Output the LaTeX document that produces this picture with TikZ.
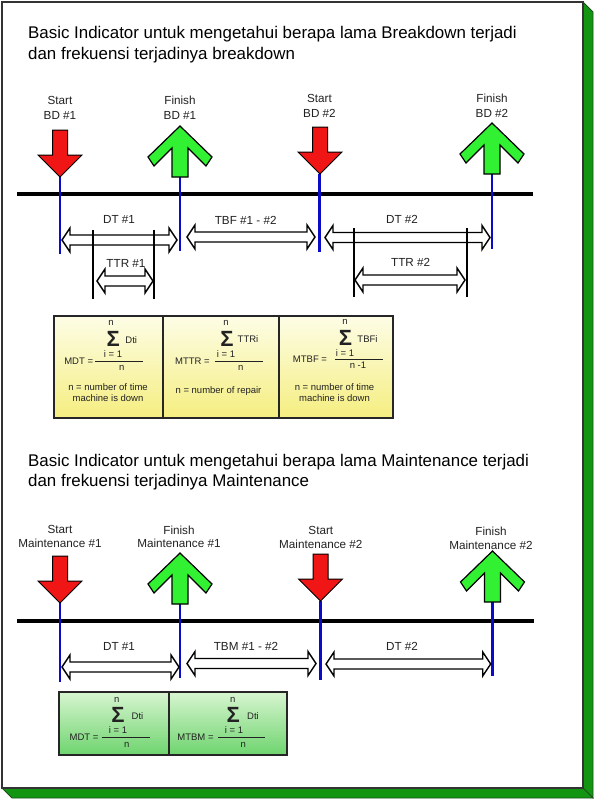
\documentclass[tikz,border=0pt]{standalone}
\usepackage{fontspec}
\setmainfont{Liberation Sans}
\definecolor{frgreen}{RGB}{18,150,18}
\definecolor{frgreendk}{RGB}{30,80,30}
\definecolor{arrred}{RGB}{240,22,22}
\definecolor{arrgreen}{RGB}{50,240,50}
\definecolor{tlblue}{RGB}{10,10,200}
\definecolor{yeltop}{RGB}{253,253,230}
\definecolor{yelbot}{RGB}{245,238,128}
\definecolor{grntop}{RGB}{215,245,208}
\definecolor{grnbot}{RGB}{110,212,110}
\definecolor{txt}{RGB}{34,34,34}
\newcommand{\redarr}[2]{\path[downarr] (#1-7.5,#2-47) -- (#1+7.5,#2-47) -- (#1+7.5,#2-22) -- (#1+22,#2-22) -- (#1,#2) -- (#1-22,#2-22) -- (#1-7.5,#2-22) -- cycle;}
\newcommand{\greenarr}[2]{\path[uparr] (#1,#2) -- (#1+32,#2+31) -- (#1+26,#2+40) -- (#1+8,#2+22) -- (#1+8,#2+51) -- (#1-8,#2+51) -- (#1-8,#2+22) -- (#1-26,#2+40) -- (#1-32,#2+31) -- cycle;}
\newcommand{\dblarr}[3]{\path[hollowarr] (#1,#3) -- (#1+8,#3-12) -- (#1+8,#3-5) -- (#2-8,#3-5) -- (#2-8,#3-12) -- (#2,#3) -- (#2-8,#3+12) -- (#2-8,#3+5) -- (#1+8,#3+5) -- (#1+8,#3+12) -- cycle;}
\begin{document}
\begin{tikzpicture}[x=1pt,y=-1pt,
  title/.style={anchor=base west, inner sep=0, font=\fontsize{16.9}{20}\selectfont, text=black},
  lbl/.style={anchor=base, inner sep=0, font=\fontsize{11.7}{14}\selectfont, text=txt},
  fml/.style={inner sep=0, font=\fontsize{9.5}{11}\selectfont, text=txt},
  sig/.style={inner sep=0, font=\fontsize{22}{24}\selectfont\bfseries, text=txt},
  timeline/.style={line width=3.5pt, black},
  evline/.style={line width=2.5pt, tlblue},
  ttrline/.style={line width=2.5pt, black},
  hollowarr/.style={draw=black, fill=white, line width=1.4pt, line join=miter},
  downarr/.style={draw=black, fill=arrred, line width=1pt},
  uparr/.style={draw=black, fill=arrgreen, line width=1.2pt},
  fracline/.style={line width=0.8pt, txt},
  tblborder/.style={line width=1.6pt, black!85}]
\useasboundingbox (0,0) rectangle (599,800);
% frame
\path[fill=frgreen, draw=frgreendk, line width=0.8pt] (583,2) -- (593,12) -- (593,798) -- (583,788) -- cycle;
\path[fill=frgreen, draw=frgreendk, line width=0.8pt] (2,788) -- (583,788) -- (593,798) -- (12,798) -- cycle;
\path[fill=white, draw=black!80, line width=1.5pt] (2,2) rectangle (583,788);
% titles
\node[title] (t1a) at (28,38.7) {Basic Indicator untuk mengetahui berapa lama Breakdown terjadi};
\node[title] (t1b) at (28,59.3) {dan frekuensi terjadinya breakdown};
\node[title] (t2a) at (28,466.7) {Basic Indicator untuk mengetahui berapa lama Maintenance terjadi};
\node[title] (t2b) at (28,486.7) {dan frekuensi terjadinya Maintenance};
% ===== section 1 =====
\node[lbl] (s1a) at (60,104) {Start};
\node[lbl] (s1b) at (60,119) {BD \#1};
\node[lbl] (f1a) at (180,104) {Finish};
\node[lbl] (f1b) at (180,119) {BD \#1};
\node[lbl] (s2a) at (319.5,102) {Start};
\node[lbl] (s2b) at (319.5,117) {BD \#2};
\node[lbl] (f2a) at (492,102) {Finish};
\node[lbl] (f2b) at (492,117) {BD \#2};
\coordinate (tl1w) at (17,194);
\coordinate (tl1e) at (533,194);
\draw[timeline] (tl1w) -- (tl1e);
\coordinate (e1t) at (60,177);   \coordinate (e1b) at (60,254);
\coordinate (e2t) at (180,177);  \coordinate (e2b) at (180,251);
\coordinate (e3t) at (319.5,174);\coordinate (e3b) at (319.5,252);
\coordinate (e4t) at (492,174);  \coordinate (e4b) at (492,248.5);
\draw[evline] (e1t) -- (e1b);
\draw[evline] (e2t) -- (e2b);
\draw[evline] (e3t) -- (e3b);
\draw[evline] (e4t) -- (e4b);
\redarr{60}{177}
\greenarr{180}{126}
\redarr{320}{174}
\greenarr{492}{123}
\dblarr{62}{177}{240}
\dblarr{187}{315}{237}
\dblarr{325}{490}{237.5}
\dblarr{97}{153}{281}
\dblarr{355}{465}{280}
\coordinate (r1t) at (93,230);  \coordinate (r1b) at (93,299);
\coordinate (r2t) at (154,230); \coordinate (r2b) at (154,299);
\coordinate (r3t) at (354,228); \coordinate (r3b) at (354,297);
\coordinate (r4t) at (467,228); \coordinate (r4b) at (467,297);
\draw[ttrline] (r1t) -- (r1b);
\draw[ttrline] (r2t) -- (r2b);
\draw[ttrline] (r3t) -- (r3b);
\draw[ttrline] (r4t) -- (r4b);
\node[lbl] (dt1) at (119,223.3) {DT \#1};
\node[lbl] (tbf) at (245.7,224) {TBF \#1 - \#2};
\node[lbl] (dt2) at (402,223.3) {DT \#2};
\node[lbl] (ttr1) at (126,267.3) {TTR \#1};
\node[lbl] (ttr2) at (410.7,266) {TTR \#2};
% yellow table
\path[top color=yeltop, bottom color=yelbot] (54,316) rectangle (393,418);
\draw[tblborder] (54,316) rectangle (393,418);
\draw[tblborder] (163,316) -- (163,418);
\draw[tblborder] (279,316) -- (279,418);
% cell 1
\node[fml] (c1n) at (111,323) {n};
\node[sig] (c1s) at (113.3,339) {Σ};
\node[fml] (c1d) at (131.3,340) {Dti};
\node[fml] (c1i) at (113,354) {i = 1};
\draw[fracline] (95,361) -- (143.3,361);
\node[fml] (c1l) at (78.7,361) {MDT =};
\node[fml] (c1m) at (121.7,367.5) {n};
\node[fml] (c1t1) at (108,387) {n = number of time};
\node[fml] (c1t2) at (108,398) {machine is down};
% cell 2
\node[fml] (c2n) at (226,323) {n};
\node[sig] (c2s) at (227,339) {Σ};
\node[fml] (c2d) at (248,339) {TTRi};
\node[fml] (c2i) at (226,354) {i = 1};
\draw[fracline] (215,361) -- (263,361);
\node[fml] (c2l) at (192.5,361) {MTTR =};
\node[fml] (c2m) at (240.7,367.5) {n};
\node[fml] (c2t) at (218.5,391) {n = number of repair};
% cell 3
\node[fml] (c3n) at (345,322) {n};
\node[sig] (c3s) at (345.5,338) {Σ};
\node[fml] (c3d) at (367.5,339) {TBFi};
\node[fml] (c3i) at (345,353.5) {i = 1};
\draw[fracline] (335,359.5) -- (383,359.5);
\node[fml] (c3l) at (310,359.5) {MTBF =};
\node[fml] (c3m) at (358,365.5) {n -1};
\node[fml] (c3t1) at (334.5,387) {n = number of time};
\node[fml] (c3t2) at (334.5,398) {machine is down};
% ===== section 2 =====
\node[lbl] (ms1a) at (60,533) {Start};
\node[lbl] (ms1b) at (60,547) {Maintenance \#1};
\node[lbl] (mf1a) at (179,534) {Finish};
\node[lbl] (mf1b) at (179,547.5) {Maintenance \#1};
\node[lbl] (ms2a) at (320.8,534) {Start};
\node[lbl] (ms2b) at (320.8,548) {Maintenance \#2};
\node[lbl] (mf2a) at (491,535) {Finish};
\node[lbl] (mf2b) at (491,549) {Maintenance \#2};
\coordinate (tl2w) at (17,621);
\coordinate (tl2e) at (534,621);
\draw[timeline] (tl2w) -- (tl2e);
\coordinate (m1t) at (60,603);    \coordinate (m1b) at (60,682);
\coordinate (m2t) at (180,604);   \coordinate (m2b) at (180,678);
\coordinate (m3t) at (320.5,601); \coordinate (m3b) at (320.5,680);
\coordinate (m4t) at (492.5,602); \coordinate (m4b) at (492.5,676);
\draw[evline] (m1t) -- (m1b);
\draw[evline] (m2t) -- (m2b);
\draw[evline] (m3t) -- (m3b);
\draw[evline] (m4t) -- (m4b);
\redarr{60}{603}
\greenarr{180}{553}
\redarr{320.5}{601}
\greenarr{492.5}{551}
\dblarr{62}{179}{667}
\dblarr{187}{316}{663.5}
\dblarr{326}{490.7}{664}
\node[lbl] (mdt1) at (119,650.7) {DT \#1};
\node[lbl] (tbm) at (246,650.7) {TBM \#1 - \#2};
\node[lbl] (mdt2) at (402,650) {DT \#2};
% green table
\path[top color=grntop, bottom color=grnbot] (59,692) rectangle (287,755);
\draw[tblborder] (59,692) rectangle (287,755);
\draw[tblborder] (169,692) -- (169,755);
\node[fml] (g1n) at (116.7,700) {n};
\node[sig] (g1s) at (118,715) {Σ};
\node[fml] (g1d) at (137.5,716) {Dti};
\node[fml] (g1i) at (118,730.5) {i = 1};
\draw[fracline] (101.7,737.5) -- (150,737.5);
\node[fml] (g1l) at (84,737.5) {MDT =};
\node[fml] (g1m) at (126.7,745) {n};
\node[fml] (g2n) at (232.7,700) {n};
\node[sig] (g2s) at (233.3,715) {Σ};
\node[fml] (g2d) at (253,716) {Dti};
\node[fml] (g2i) at (234,730.5) {i = 1};
\draw[fracline] (218,737.5) -- (265,737.5);
\node[fml] (g2l) at (195.5,737.5) {MTBM =};
\node[fml] (g2m) at (243.3,745) {n};
\end{tikzpicture}
\end{document}
